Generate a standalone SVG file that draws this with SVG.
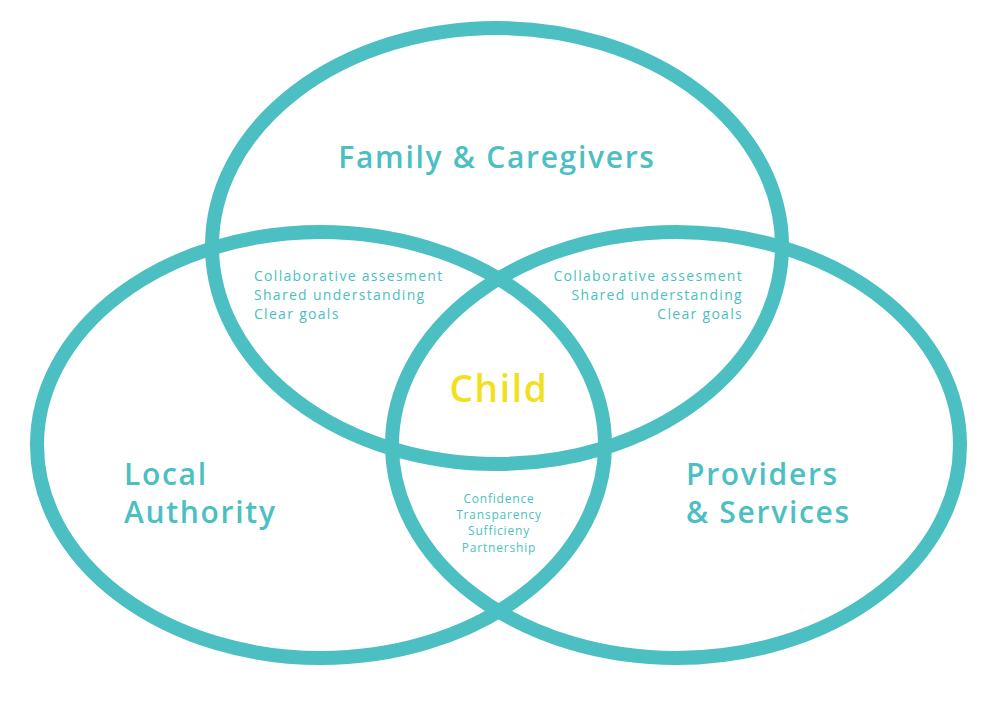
<svg xmlns="http://www.w3.org/2000/svg" width="1000" height="707" viewBox="0 0 1000 707">
<style>
.c{fill:none;stroke:#4bbfc1;stroke-width:14}
text{font-family:"Open Sans",Lato,sans-serif;fill:#4bbfc1}
.big{font-size:30px;font-weight:600;letter-spacing:1.7px}
.sm{font-size:14px;font-weight:500;letter-spacing:1.3px}
.xs{font-size:12px;font-weight:500;letter-spacing:0.8px}
</style>
<rect width="1000" height="707" fill="#fff"/>
<g id="family"><ellipse class="c" cx="497" cy="246" rx="285" ry="218"/>
<text class="big" x="497" y="168" text-anchor="middle">Family &amp; Caregivers</text></g>
<g id="local"><ellipse class="c" cx="321" cy="445" rx="284" ry="213"/>
<text class="big" x="124" y="485">Local</text><text class="big" x="124" y="523">Authority</text></g>
<g id="providers"><ellipse class="c" cx="676" cy="445" rx="284" ry="213"/>
<text class="big" x="686" y="485">Providers</text><text class="big" x="686" y="523">&amp; Services</text></g>
<g id="overlap-left"><text class="sm" x="254" y="281">Collaborative assesment</text><text class="sm" x="254" y="300">Shared understanding</text><text class="sm" x="254" y="319">Clear goals</text></g>
<g id="overlap-right" text-anchor="end"><text class="sm" x="743" y="281">Collaborative assesment</text><text class="sm" x="743" y="300">Shared understanding</text><text class="sm" x="743" y="319">Clear goals</text></g>
<g id="overlap-bottom" text-anchor="middle"><text class="xs" x="499" y="503">Confidence</text><text class="xs" x="499" y="519">Transparency</text><text class="xs" x="499" y="535">Sufficieny</text><text class="xs" x="499" y="552">Partnership</text></g>
<g id="child"><text class="big" x="499" y="402" text-anchor="middle" style="fill:#f3e01c;font-size:37px">Child</text></g>
<g id="connectors"/>
</svg>
